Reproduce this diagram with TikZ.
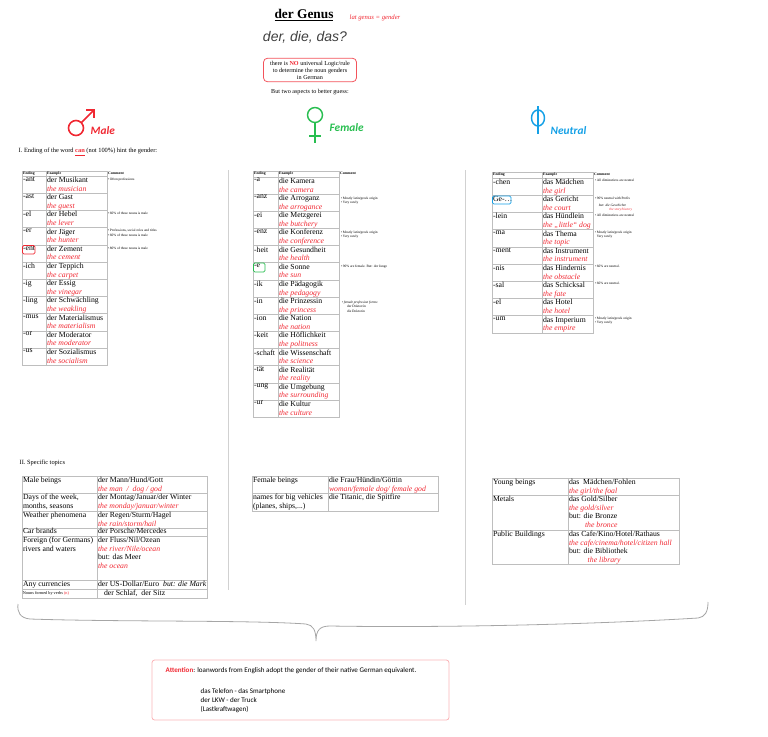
\documentclass[tikz,border=0pt]{standalone}
\usepackage{fontspec}
\setmainfont{Liberation Serif}
\newfontfamily\calib{Carlito}
\newfontfamily\arial{Liberation Sans}
\usetikzlibrary{calc}
\definecolor{tr}{RGB}{240,40,50}
\definecolor{gl}{RGB}{190,190,190}
\definecolor{fem}{RGB}{40,190,80}
\definecolor{neu}{RGB}{20,160,230}
\newcommand\bul{\textbullet\ }
\begin{document}
\begin{tikzpicture}[x=0.75pt,y=-0.75pt,
  cell/.style={anchor=north west,inner sep=0.6pt,align=left,font=\fontsize{5.8}{6.5}\selectfont},
  hdr/.style={anchor=north west,inner sep=0.6pt,font=\fontsize{2.8}{3}\selectfont\bfseries},
  cmt/.style={anchor=north west,inner sep=0.4pt,align=left,font=\fontsize{2.6}{3.4}\selectfont},
  grid/.style={draw=gl,line width=0.4pt},
  vline/.style={draw=gl!70,line width=0.6pt}]
\useasboundingbox (0,0) rectangle (768,736);
% title
\node[font=\fontsize{10}{12}\selectfont\bfseries] (title) at (304,15) {\underline{der Genus}};
\node[font=\fontsize{5}{6}\selectfont\itshape,text=tr] (lat) at (375,18) {lat genus = gender};
\node[font=\arial\fontsize{10.5}{13}\selectfont\itshape,text=black!75] (ddd) at (305,37) {der, die, das?};
\node[draw=tr!80,rounded corners=3pt,line width=0.6pt,align=center,font=\fontsize{4.6}{5.2}\selectfont,inner xsep=5pt,inner ysep=2pt] (nobox) at (310,70) {there is \textcolor{tr}{\textbf{NO}} universal Logic/rule\\to determine the noun genders\\in German};
\node[font=\fontsize{4.6}{5.2}\selectfont] (two) at (310,92) {But two aspects to better guess:};
% symbols
\draw[tr,line width=1.2pt] (76,128) circle (7.5) coordinate (mc);
\draw[tr,line width=1.2pt] (81.5,122.5) -- (94,110);
\draw[tr,line width=1.2pt] (86,110) -- (94,110) -- (94,118);
\node[anchor=west,text=tr,font=\calib\bfseries\itshape\fontsize{8.5}{10}\selectfont] (male) at (86,131) {Male};
\draw[fem,line width=1.1pt] (315,115) circle (7.5);
\draw[fem,line width=1.1pt] (315,122.5) -- (315,143) (309,136) -- (321,136);
\node[anchor=west,text=fem,font=\calib\bfseries\itshape\fontsize{8.5}{10}\selectfont] (female) at (325,128) {Female};
\draw[neu,line width=1.1pt] (538,118) ellipse (6.5 and 8);
\draw[neu,line width=1.1pt] (538,106) -- (538,134);
\node[anchor=west,text=neu,font=\calib\bfseries\itshape\fontsize{8.5}{10}\selectfont] (neutral) at (546,131) {Neutral};
\node[anchor=west,font=\fontsize{4.8}{5.5}\selectfont] (sec1) at (14,152) {I. Ending of the word \textcolor{tr}{\textbf{\underline{can}}} (not 100\%) hint the gender:};
% vertical separators
\draw[vline] (228,170) -- (228,590);
\draw[vline] (465,170) -- (465,605);
% ===== Male table
\draw[grid] (22,171) rectangle (46,176) (46,171) rectangle (107,176);
\node[hdr] (mh1) at (22,171) {Ending};
\node[hdr] (mh2) at (46,171) {Example};
\node[hdr] (mh3) at (107,171) {Comment};
\foreach \e/\g/\t [count=\i from 0] in {-ant/der Musikant/the musician,-ast/der Gast/the guest,-el/der Hebel/the lever,-er/der Jäger/the hunter,-ent/der Zement/the cement,-ich/der Teppich/the carpet,-ig/der Essig/the vinegar,-ling/der Schwächling/the weakling,-mus/der Materialismus/the materialism,-or/der Moderator/the moderator,-us/der Sozialismus/the socialism}{
  \pgfmathsetmacro\yy{176+\i*17.2}
  \draw[grid] (22,\yy) rectangle (46,\yy+17.2) (46,\yy) rectangle (107,\yy+17.2);
  \node[cell] (me\i) at (22,\yy) {\e};
  \node[cell] (mg\i) at (46,\yy) {\g\\\textcolor{tr}{\itshape\t}};
}
\draw[tr,rounded corners=1pt,line width=0.5pt] (22.5,245.5) rectangle (35,254);
\node[cmt] (mc0) at (107,177) {\bul Often professions};
\node[cmt] (mc2) at (107,211.5) {\bul 60\% of these nouns is male};
\node[cmt] (mc3) at (107,228.5) {\bul Professions, social roles and titles\\\bul 60\% of these nouns is male};
\node[cmt] (mc4) at (107,246) {\bul 80\% of these nouns is male};
% ===== Female table
\draw[grid] (253,171) rectangle (278,177) (278,171) rectangle (339,177);
\node[hdr] (fh1) at (253,171) {Ending};
\node[hdr] (fh2) at (278,171) {Example};
\node[hdr] (fh3) at (339,171) {Comment};
\foreach \e/\g/\t [count=\i from 0] in {-a/die Kamera/the camera,-anz/die Arroganz/the arrogance,-ei/die Metzgerei/the butchery,-enz/die Konferenz/the conference,-heit/die Gesundheit/the health,-e/die Sonne/the sun,-ik/die Pädagogik/the pedagogy,-in/die Prinzessin/the princess,-ion/die Nation/the nation,-keit/die Höflichkeit/the politness,-schaft/die Wissenschaft/the science,-tät/die Realität/the reality,-ung/die Umgebung/the surrounding,-ur/die Kultur/the culture}{
  \pgfmathsetmacro\yy{177+\i*17.15}
  \draw[grid] (253,\yy) rectangle (278,\yy+17.15) (278,\yy) rectangle (339,\yy+17.15);
  \node[cell] (fe\i) at (253,\yy) {\e};
  \node[cell] (fg\i) at (278,\yy) {\g\\\textcolor{tr}{\itshape\t}};
}
\draw[fem,rounded corners=1pt,line width=0.5pt] (253.5,263) rectangle (265,272);
\node[cmt] (fc1) at (340,196) {\bul Mostly latin/greek origin\\\bul Very rarely};
\node[cmt] (fc3) at (340,230) {\bul Mostly latin/greek origin\\\bul Very rarely};
\node[cmt] (fc5) at (340,264) {\bul 90\% are female. But: der Junge};
\node[cmt] (fc7) at (341,300) {\bul \textit{female profession forms:}\\\hspace{4pt}der Doktor/in\\\hspace{4pt}die Doktorin};
% ===== Neutral table
\draw[grid] (492,172) rectangle (542,178) (542,172) rectangle (593,178);
\node[hdr] (nh1) at (492,172) {Ending};
\node[hdr] (nh2) at (542,172) {Example};
\node[hdr] (nh3) at (593,172) {Comment};
\foreach \e/\g/\t [count=\i from 0] in {-chen/das Mädchen/the girl,Ge-\ldots/das Gericht/the court,-lein/das Hündlein/the „little“ dog,-ma/das Thema/the topic,-ment/das Instrument/the instrument,-nis/das Hindernis/the obstacle,-sal/das Schicksal/the fate,-el/das Hotel/the hotel,-um/das Imperium/the empire}{
  \pgfmathsetmacro\yy{178+\i*17.2}
  \draw[grid] (492,\yy) rectangle (542,\yy+17.2) (542,\yy) rectangle (593,\yy+17.2);
  \node[cell] (ne\i) at (492,\yy) {\e};
  \node[cell] (ng\i) at (542,\yy) {\g\\\textcolor{tr}{\itshape\t}};
}
\draw[neu,rounded corners=1pt,line width=0.6pt] (492.5,196) rectangle (511,204);
\node[cmt] (nc0) at (594,178.5) {\bul All diminutives are neutral};
\node[cmt] (nc1) at (594,196) {\bul 90\% neutral with Prefix};
\node[cmt] (nc1b) at (598,203) {\textit{but: die Geschichte}\\\hspace{8pt}\textcolor{tr}{\textit{the story/history}}};
\node[cmt] (nc2) at (594,213) {\bul All diminutives are neutral};
\node[cmt] (nc3) at (594,230) {\bul Mostly latin/greek origin\\\hspace{1.5pt}Very rarely};
\node[cmt] (nc5) at (594,264.5) {\bul 66\% are neutral.};
\node[cmt] (nc6) at (594,281.5) {\bul 66\% are neutral.};
\node[cmt] (nc8) at (594,316) {\bul Mostly latin/greek origin\\\bul Very rarely};
% ===== Section II
\node[anchor=west,font=\fontsize{4.8}{5.5}\selectfont] (sec2) at (15,463) {II. Specific topics};
\foreach \a/\b in {476/493,493/511,511/528,528/536,536/580,580/589,589/598}{
  \draw[grid] (22,\a) rectangle (97,\b) (97,\a) rectangle (207,\b);
}
\node[cell] (s1a) at (22,476) {Male beings};
\node[cell] (s1b) at (97,476) {der Mann/Hund/Gott\\\textcolor{tr}{\itshape the man \ / \ dog / god}};
\node[cell] (s2a) at (22,493) {Days of the week,\\months, seasons};
\node[cell] (s2b) at (97,493) {der Montag/Januar/der Winter\\\textcolor{tr}{\itshape the monday/januar/winter}};
\node[cell] (s3a) at (22,511) {Weather phenomena};
\node[cell] (s3b) at (97,511) {der Regen/Sturm/Hagel\\\textcolor{tr}{\itshape the rain/storm/hail}};
\node[cell,inner ysep=0.2pt] (s4a) at (22,528) {Car brands};
\node[cell,inner ysep=0.2pt] (s4b) at (97,528) {der Porsche/Mercedes};
\node[cell] (s5a) at (22,536) {Foreign (for Germans)\\rivers and waters};
\node[cell] (s5b) at (97,536) {der Fluss/Nil/Ozean\\\textcolor{tr}{\itshape the river/Nile/ocean}\\but: das Meer\\\textcolor{tr}{\itshape the ocean}};
\node[cell,inner ysep=0.6pt] (s6a) at (22,580) {Any currencies};
\node[cell,inner ysep=0.6pt] (s6b) at (97,580) {der US-Dollar/Euro \ \textit{but: die Mark}};
\node[cmt,font=\fontsize{3.2}{4}\selectfont] (s7a) at (22,591) {Nouns formed by verbs \textcolor{tr}{(n)}};
\node[cell,inner ysep=0.4pt] (s7b) at (103,589.5) {der Schlaf, \ der Sitz};
\foreach \a/\b in {476/493,493/511}{
  \draw[grid] (252,\a) rectangle (328,\b) (328,\a) rectangle (438,\b);
}
\node[cell] (f1a) at (252,476) {Female beings};
\node[cell] (f1b) at (328,476) {die Frau/Hündin/Göttin\\\textcolor{tr}{\itshape woman/female dog/ female god}};
\node[cell] (f2a) at (252,493) {names for big vehicles\\(planes, ships,...)};
\node[cell] (f2b) at (328,493) {die Titanic, die Spitfire};
\foreach \a/\b in {478/495,495/530,530/564}{
  \draw[grid] (492,\a) rectangle (568,\b) (568,\a) rectangle (679,\b);
}
\node[cell] (n1a) at (492,478) {Young beings};
\node[cell] (n1b) at (568,478) {das \ Mädchen/Fohlen\\\textcolor{tr}{\itshape the girl/the foal}};
\node[cell] (n2a) at (492,495) {Metals};
\node[cell] (n2b) at (568,495) {das Gold/Silber\\\textcolor{tr}{\itshape the gold/silver}\\but: die Bronze\\\hspace{12pt}\textcolor{tr}{\itshape the bronce}};
\node[cell] (n3a) at (492,530) {Public Buildings};
\node[cell] (n3b) at (568,530) {das Cafe/Kino/Hotel/Rathaus\\\textcolor{tr}{\itshape the cafe/cinema/hotel/citizen hall}\\but: die Bibliothek\\\hspace{14pt}\textcolor{tr}{\itshape the library}};
% brace
\draw[gray!70,line width=0.6pt] (18,604) .. controls (17,612) and (20,618) .. (30,619)
  .. controls (120,622) and (250,620) .. (306,624)
  .. controls (313,625) and (316,630) .. (316,641)
  .. controls (316,630) and (320,626) .. (330,626)
  .. controls (450,628) and (600,624) .. (698,618)
  .. controls (705,617) and (708,612) .. (708,602);
% attention box
\draw[tr!35,rounded corners=2pt,line width=0.6pt] (152,660) rectangle (449,720);
\node[anchor=west,font=\calib\fontsize{5.3}{6}\selectfont] (att) at (161,671) {\textcolor{tr}{\textbf{Attention}}: loanwords from English adopt the gender of their native German equivalent.};
\node[anchor=north west,align=left,font=\calib\fontsize{5.3}{6.6}\selectfont] (ex) at (196,684) {das Telefon - das Smartphone\\der LKW - der Truck\\(Lastkraftwagen)};
\end{tikzpicture}
\end{document}
